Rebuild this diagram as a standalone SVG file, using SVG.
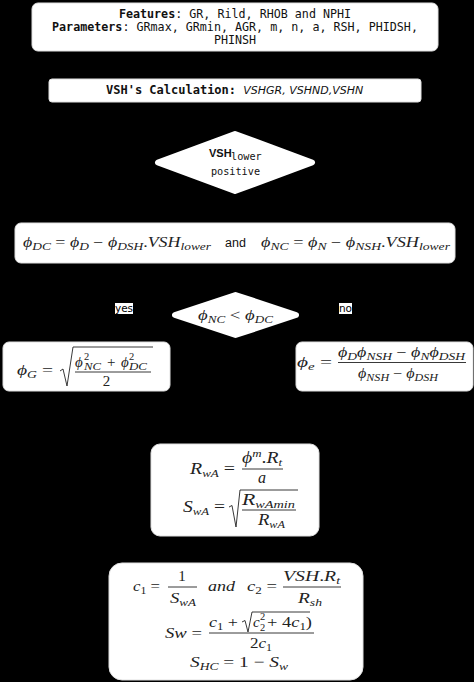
<svg xmlns="http://www.w3.org/2000/svg" width="474" height="682" viewBox="0 0 474 682">
<defs>
<marker id="ah" markerWidth="8" markerHeight="8" refX="7" refY="4" orient="auto" markerUnits="userSpaceOnUse"><path d="M0,0 L8,4 L0,8 z" fill="#000"/></marker>
<style>
.box{fill:#fff;stroke:#e0e0e0;stroke-width:1}
.dia{fill:#fff;stroke:#fff;stroke-width:6;stroke-linejoin:round}
.mono{font-family:"DejaVu Sans Mono","Liberation Mono",monospace;fill:#111}
.b{font-weight:bold}
.m{font-family:"Liberation Serif","DejaVu Serif",serif;font-style:italic;fill:#222}
.n{font-style:normal}
.s{font-size:10.5px}
.bar{stroke:#222;stroke-width:0.9;fill:none}
.conn{stroke:#000;stroke-width:1.2;fill:none}
.lbl{font-family:"DejaVu Sans","Liberation Sans",sans-serif;font-size:10.5px;fill:#000}
</style>
</defs>
<rect width="474" height="682" fill="#000"/>
<g id="connectors">
<path class="conn" d="M235,51 V78" marker-end="url(#ah)"/>
<path class="conn" d="M235,102 V130" marker-end="url(#ah)"/>
<path class="conn" d="M235,194 V222" marker-end="url(#ah)"/>
<path class="conn" d="M235,263 V291" marker-end="url(#ah)"/>
<path class="conn" d="M172,315 H86 V341" marker-end="url(#ah)"/>
<path class="conn" d="M299,315 H384 V341" marker-end="url(#ah)"/>
<path class="conn" d="M86,391 V420 H235 V443" marker-end="url(#ah)"/>
<path class="conn" d="M384,391 V420 H235"/>
<path class="conn" d="M235,536 V562" marker-end="url(#ah)"/>
<g id="label-yes"><rect x="115" y="303" width="18" height="11" fill="#fff"/><text class="lbl" x="124" y="311.5" text-anchor="middle">yes</text></g>
<g id="label-no"><rect x="339" y="303" width="13" height="11" fill="#fff"/><text class="lbl" x="345.5" y="311.5" text-anchor="middle">no</text></g>
</g>
<g id="inputs">
<rect class="box" x="32" y="3" width="406" height="48" rx="6"/>
<text class="mono" x="235" y="17.5" font-size="11.7" text-anchor="middle"><tspan class="b">Features</tspan>: GR, Rild, RHOB and NPHI</text>
<text class="mono" x="235" y="30.5" font-size="11.7" text-anchor="middle"><tspan class="b">Parameters</tspan>: GRmax, GRmin, AGR, m, n, a, RSH, PHIDSH,</text>
<text class="mono" x="235" y="43.5" font-size="11.7" text-anchor="middle">PHINSH</text>
</g>
<g id="vsh-calc">
<rect class="box" x="49" y="79" width="372" height="23" rx="3"/>
<text class="mono" x="106" y="94" font-size="12"><tspan class="b">VSH's Calculation:</tspan> <tspan font-family="DejaVu Sans, sans-serif" font-style="italic" font-size="11">VSHGR,  VSHND,VSHN</tspan></text>
</g>
<g id="vsh-decision">
<polygon class="dia" points="235,134 312,162.5 235,191 158,162.5"/>
<text x="209" y="157" font-family="Liberation Sans, Arial, sans-serif" font-weight="bold" font-size="11" fill="#111">VSH</text>
<text class="mono" x="231" y="160" font-size="10.2">lower</text>
<text class="mono" x="235.5" y="175" font-size="10.2" text-anchor="middle">positive</text>
</g>
<g id="corrected-porosity">
<rect class="box" x="15" y="223" width="440" height="40" rx="6"/>
<text class="m" x="23" y="247" font-size="14" textLength="188" lengthAdjust="spacingAndGlyphs">ϕ<tspan class="s" dy="3">DC</tspan><tspan class="n" dy="-3"> = </tspan>ϕ<tspan class="s" dy="3">D</tspan><tspan class="n" dy="-3"> − </tspan>ϕ<tspan class="s" dy="3">DSH</tspan><tspan class="n" dy="-3">.</tspan>VSH<tspan class="s" dy="3">lower</tspan></text>
<text x="225" y="247" font-family="Liberation Sans, Arial, sans-serif" font-size="12.5" fill="#111">and</text>
<text class="m" x="261" y="247" font-size="14" textLength="189" lengthAdjust="spacingAndGlyphs">ϕ<tspan class="s" dy="3">NC</tspan><tspan class="n" dy="-3"> = </tspan>ϕ<tspan class="s" dy="3">N</tspan><tspan class="n" dy="-3"> − </tspan>ϕ<tspan class="s" dy="3">NSH</tspan><tspan class="n" dy="-3">.</tspan>VSH<tspan class="s" dy="3">lower</tspan></text>
</g>
<g id="porosity-decision">
<polygon class="dia" points="235.5,295 296,315 235.5,335 175,315"/>
<text class="m" x="235.5" y="320" font-size="15" text-anchor="middle" textLength="75" lengthAdjust="spacingAndGlyphs">ϕ<tspan class="s" dy="3">NC</tspan><tspan class="n" dy="-3"> &lt; </tspan>ϕ<tspan class="s" dy="3">DC</tspan></text>
</g>
<g id="gas-porosity">
<rect class="box" x="3" y="342" width="167" height="49" rx="6"/>
<text class="m" x="17" y="375" font-size="15" textLength="36" lengthAdjust="spacingAndGlyphs">ϕ<tspan class="s" dy="3">G</tspan><tspan class="n" dy="-3"> =</tspan></text>
<polyline class="bar" points="60,371 63,369 67,386 73,347 153,347"/>
<text class="m" x="75" y="367" font-size="15">ϕ</text>
<text class="m n s" x="84" y="360">2</text>
<text class="m s" x="84" y="370" textLength="17" lengthAdjust="spacingAndGlyphs">NC</text>
<text class="m n" x="107" y="367" font-size="15">+</text>
<text class="m" x="121" y="367" font-size="15">ϕ</text>
<text class="m n s" x="129" y="360">2</text>
<text class="m s" x="129" y="370" textLength="18" lengthAdjust="spacingAndGlyphs">DC</text>
<line class="bar" x1="75" y1="372" x2="151" y2="372"/>
<text class="m n" x="106.5" y="386" font-size="15" text-anchor="middle">2</text>
</g>
<g id="effective-porosity">
<rect class="box" x="296" y="342" width="177" height="49" rx="6"/>
<text class="m" x="297" y="367" font-size="15" textLength="35" lengthAdjust="spacingAndGlyphs">ϕ<tspan class="s" dy="3">e</tspan><tspan class="n" dy="-3"> =</tspan></text>
<text class="m" x="401.5" y="357" font-size="14" text-anchor="middle" textLength="127" lengthAdjust="spacingAndGlyphs">ϕ<tspan class="s" dy="3">D</tspan><tspan dy="-3">ϕ</tspan><tspan class="s" dy="3">NSH</tspan><tspan class="n" dy="-3"> − </tspan>ϕ<tspan class="s" dy="3">N</tspan><tspan dy="-3">ϕ</tspan><tspan class="s" dy="3">DSH</tspan></text>
<line class="bar" x1="338" y1="362.5" x2="466" y2="362.5"/>
<text class="m" x="398" y="378" font-size="14" text-anchor="middle" textLength="80" lengthAdjust="spacingAndGlyphs">ϕ<tspan class="s" dy="3">NSH</tspan><tspan class="n" dy="-3"> − </tspan>ϕ<tspan class="s" dy="3">DSH</tspan></text>
</g>
<g id="water-resistivity">
<rect class="box" x="151" y="444" width="168" height="92" rx="9"/>
<text class="m" x="235" y="474" font-size="16" text-anchor="end" textLength="45" lengthAdjust="spacingAndGlyphs">R<tspan class="s" dy="3">wA</tspan><tspan class="n" dy="-3"> =</tspan></text>
<text class="m" x="262" y="463" font-size="16" text-anchor="middle" textLength="40" lengthAdjust="spacingAndGlyphs">ϕ<tspan class="s" dy="-6">m</tspan><tspan class="n" dy="6">.</tspan>R<tspan class="s" dy="3">t</tspan></text>
<line class="bar" x1="242" y1="469" x2="283" y2="469"/>
<text class="m" x="262" y="483" font-size="16" text-anchor="middle">a</text>
<text class="m" x="225" y="512" font-size="16" text-anchor="end" textLength="42" lengthAdjust="spacingAndGlyphs">S<tspan class="s" dy="3">wA</tspan><tspan class="n" dy="-3"> =</tspan></text>
<polyline class="bar" points="229,507 232,505.5 236,527 240,490 298,490"/>
<text class="m" x="268.5" y="505" font-size="16" text-anchor="middle" textLength="53" lengthAdjust="spacingAndGlyphs">R<tspan class="s" dy="3">wAmin</tspan></text>
<line class="bar" x1="242" y1="510" x2="296" y2="510"/>
<text class="m" x="271.5" y="525" font-size="16" text-anchor="middle" textLength="27" lengthAdjust="spacingAndGlyphs">R<tspan class="s" dy="3">wA</tspan></text>
</g>
<g id="water-saturation">
<rect class="box" x="109" y="563" width="254" height="117" rx="13"/>
<text class="m" x="160" y="591" font-size="15" text-anchor="end" textLength="27" lengthAdjust="spacingAndGlyphs">c<tspan class="n s" dy="3">1</tspan><tspan class="n" dy="-3"> =</tspan></text>
<text class="m n" x="182" y="581" font-size="15" text-anchor="middle">1</text>
<line class="bar" x1="168" y1="587" x2="197" y2="587"/>
<text class="m" x="183" y="603" font-size="15" text-anchor="middle" textLength="26" lengthAdjust="spacingAndGlyphs">S<tspan class="s" dy="3">wA</tspan></text>
<text class="m" x="208" y="591" font-size="15" textLength="27" lengthAdjust="spacingAndGlyphs">and</text>
<text class="m" x="247" y="591" font-size="15" textLength="30" lengthAdjust="spacingAndGlyphs">c<tspan class="n s" dy="3">2</tspan><tspan class="n" dy="-3"> =</tspan></text>
<text class="m" x="311.5" y="581" font-size="15" text-anchor="middle" textLength="57" lengthAdjust="spacingAndGlyphs">VSH<tspan class="n">.</tspan>R<tspan class="s" dy="3">t</tspan></text>
<line class="bar" x1="283" y1="587" x2="341" y2="587"/>
<text class="m" x="310" y="603" font-size="15" text-anchor="middle" textLength="24" lengthAdjust="spacingAndGlyphs">R<tspan class="s" dy="3">sh</tspan></text>
<text class="m" x="202" y="638" font-size="15" text-anchor="end" textLength="37" lengthAdjust="spacingAndGlyphs">Sw<tspan class="n"> =</tspan></text>
<text class="m" x="209" y="627" font-size="15" textLength="29" lengthAdjust="spacingAndGlyphs">c<tspan class="n s" dy="3">1</tspan><tspan class="n" dy="-3"> +</tspan></text>
<polyline class="bar" points="242,622 245,620.5 248,632 252,612 310,612"/>
<text class="m" x="253" y="627" font-size="15">c</text>
<text class="m n s" x="260" y="620">2</text>
<text class="m n s" x="260" y="631">2</text>
<text class="m n" x="267" y="627" font-size="15" textLength="45" lengthAdjust="spacingAndGlyphs">+ 4<tspan class="m">c</tspan><tspan class="s" dy="3">1</tspan><tspan dy="-3">)</tspan></text>
<line class="bar" x1="209" y1="633" x2="314" y2="633"/>
<text class="m n" x="261" y="648" font-size="15" text-anchor="middle" textLength="22" lengthAdjust="spacingAndGlyphs">2<tspan class="m">c</tspan><tspan class="s" dy="3">1</tspan></text>
<text class="m" x="239" y="667" font-size="15" text-anchor="middle" textLength="98" lengthAdjust="spacingAndGlyphs">S<tspan class="s" dy="3">HC</tspan><tspan class="n" dy="-3"> = 1 − </tspan>S<tspan class="s" dy="3">w</tspan></text>
</g>
</svg>
